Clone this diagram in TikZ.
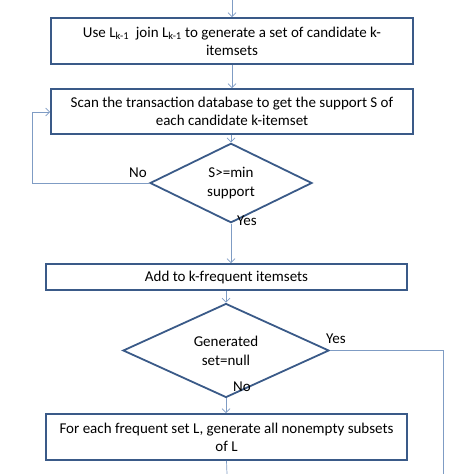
\documentclass[tikz,border=0pt]{standalone}
\usepackage{fontspec}
\setmainfont{Carlito}
\usetikzlibrary{shapes.geometric,arrows.meta}
\definecolor{boxc}{HTML}{3A5A88}
\definecolor{linec}{HTML}{7F9CC4}
\begin{document}
\begin{tikzpicture}[x=1pt,y=-1pt,
  box/.style={draw=boxc,line width=1.8pt,inner sep=0pt,align=center,font=\fontsize{15}{18}\selectfont},
  dia/.style={draw=boxc,line width=1.8pt,diamond,inner sep=0pt,align=center,font=\fontsize{15}{19}\selectfont},
  conn/.style={draw=linec,line width=0.7pt},
  arr/.style={conn,-{Straight Barb[length=4pt,width=8pt]}},
  lbl/.style={font=\fontsize{15}{18}\selectfont,inner sep=0pt}]
\useasboundingbox (0,0) rectangle (474,474);
\node[box,minimum width=362pt,minimum height=46pt] (b1) at (232,41) {Use L\textsubscript{k-1}\ \ join L\textsubscript{k-1} to generate a set of candidate k-\\itemsets};
\node[box,minimum width=362pt,minimum height=45pt] (b2) at (232,111.5) {Scan the transaction database to get the support S of\\each candidate k-itemset};
\node[dia,minimum width=162pt,minimum height=46pt] (d1) at (231,183) {S>=min\\support};
\node[box,minimum width=361pt,minimum height=26pt] (b3) at (226.5,277) {Add to k-frequent itemsets};
\node[dia,minimum width=206pt,minimum height=57pt] (d2) at (226,350.5) {Generated\\set=null};
\node[box,minimum width=361pt,minimum height=46pt] (b4) at (226.5,437) {For each frequent set L, generate all nonempty subsets\\of L};
\coordinate (top) at (232,0);
\coordinate (loopa) at (32,183);
\coordinate (loopb) at (32,112);
\coordinate (yesa) at (443,350.5);
\coordinate (yesb) at (443,474);
\coordinate (bot) at (227,474);
\draw[arr] (top) -- (b1.north);
\draw[arr] (b1.south) -- (b2.north);
\draw[arr] (b2.south -| d1.north) -- (d1.north);
\draw[arr] (d1.west) -- (loopa) -- (loopb) -- (b2.west |- loopb);
\draw[arr] (d1.south) -- (d1.south |- b3.north);
\draw[arr] (b3.south -| d2.north) -- (d2.north);
\draw[conn] (d2.east) -- (yesa) -- (yesb);
\draw[arr] (d2.south) -- (d2.south |- b4.north);
\draw[conn] (b4.south) -- (bot);
\node[lbl,anchor=west] (no1) at (129,173) {No};
\node[lbl,anchor=west] (yes1) at (237,221) {Yes};
\node[lbl,anchor=west] (yes2) at (326,339) {Yes};
\node[lbl,anchor=west] (no2) at (233,387) {No};
\end{tikzpicture}
\end{document}
